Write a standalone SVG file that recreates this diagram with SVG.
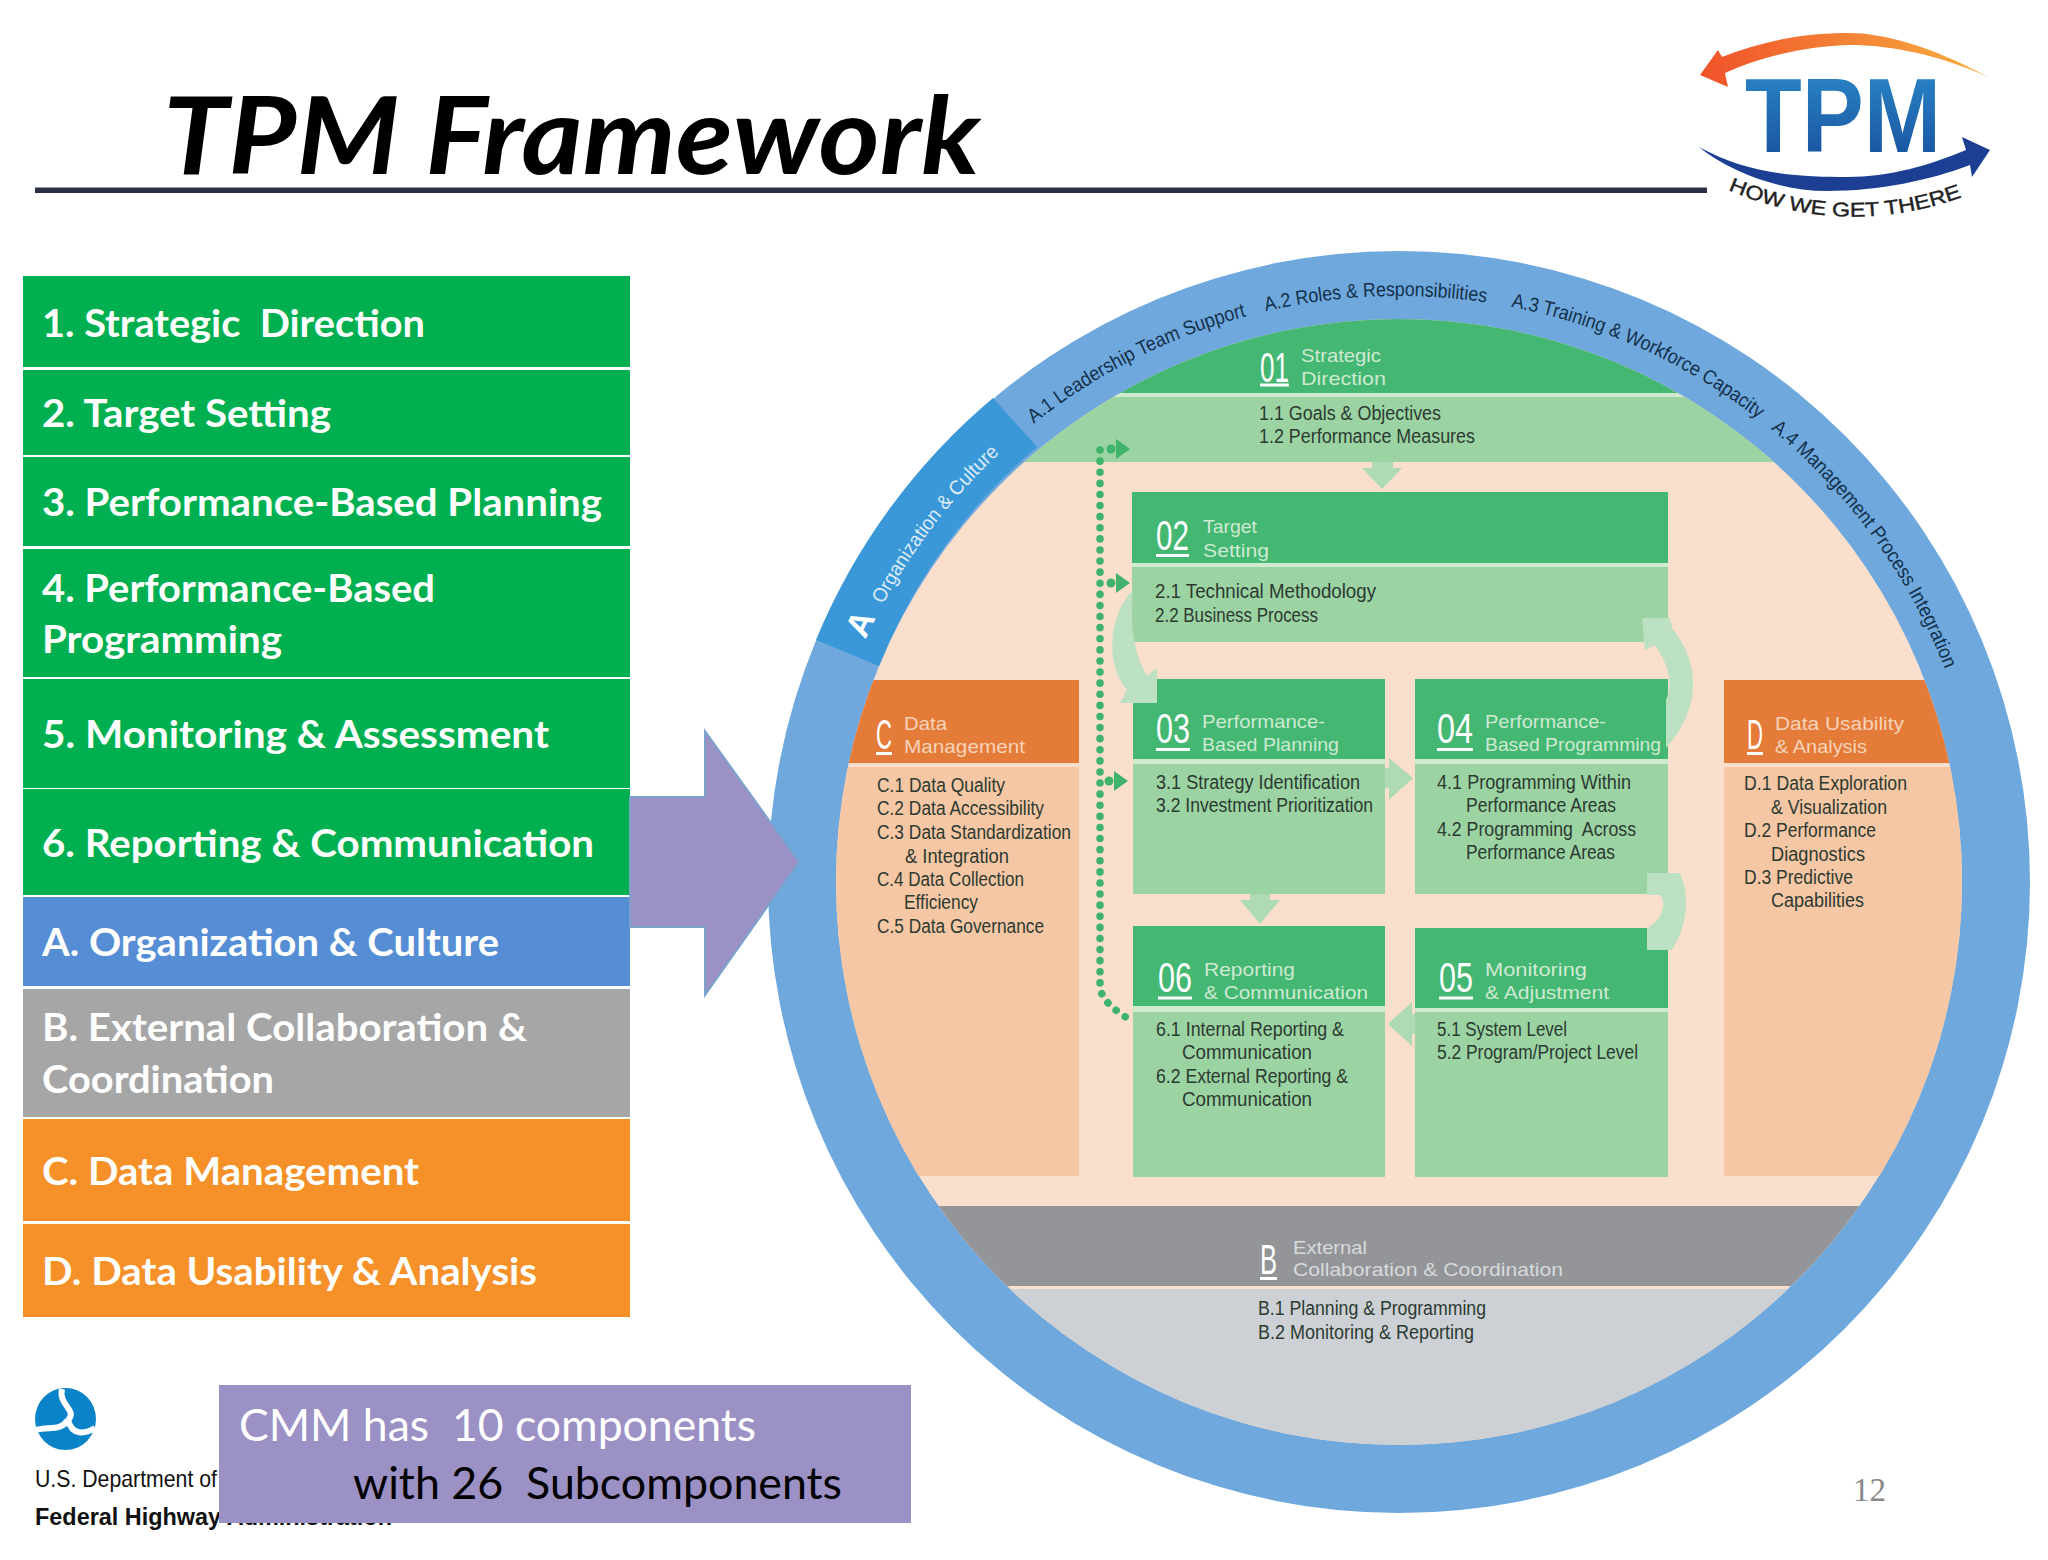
<svg xmlns="http://www.w3.org/2000/svg" width="2048" height="1560" viewBox="0 0 2048 1560">
<style>
text{font-family:"Liberation Sans",Arial,sans-serif}
.row text{font-family:Lato,"Liberation Sans",sans-serif;font-weight:700;font-size:38px;fill:#fff}
.hd{fill:#44b773}.lt{fill:#9bd3a3}.gap{fill:#cfead0}.oh{fill:#e57b38}.ol{fill:#f6c7a4}
.ht{font-size:19px;fill:#cfe9d2}
.oht{font-size:19px;fill:#f6d3ba}
.it{font-size:20px;fill:#2c3a31}
.num{font-size:43px;fill:#fff}
.arc{font-size:20px;fill:#14304a}
.bigarrow{fill:#aedab5}
.curve{fill:#bce1c2}
.dots{fill:none;stroke:#3fb26c;stroke-width:7.5;stroke-linecap:round;stroke-dasharray:0.1 11}
</style>
<defs>
<clipPath id="inner"><circle cx="1399" cy="882" r="563"/></clipPath>
<linearGradient id="tpmG" x1="0" y1="0" x2="0" y2="1"><stop offset="0" stop-color="#2b8ccb"/><stop offset="1" stop-color="#174b9b"/></linearGradient>
<linearGradient id="orG" x1="0" y1="0" x2="1" y2="0"><stop offset="0" stop-color="#f0522a"/><stop offset="1" stop-color="#f7b040"/></linearGradient>
<path id="ringPath" d="M813,882 A586,586 0 1 1 1985,882"/>
<path id="howPath" d="M1728,190 Q1845,240 1965,196"/>
<g id="dotArrow"><circle cx="-9" cy="0" r="4.500" fill="#3fb26c"/><path d="M-4,-10 L10,0 L-4,10 Z" fill="#3fb26c"/></g>
</defs>

<rect width="2048" height="1560" fill="#fff"/>

<g id="title">
<text x="163" y="174" font-size="108" font-weight="700" font-style="italic" textLength="817" lengthAdjust="spacingAndGlyphs" style="font-family:Lato,'Liberation Sans',sans-serif" fill="#000">TPM Framework</text>
<rect x="35" y="187.500" width="1672" height="5.500" fill="#2a2f45"/>
</g>

<g id="tpm-logo">
<path d="M1988,77 C1930,45 1880,33 1850,33 C1800,33 1760,42 1722,57 L1718,50 L1700,75 L1728,87 L1725,73 C1765,55 1810,46 1850,45 C1890,45 1940,55 1988,77 Z" fill="url(#orG)"/>
<text x="1745" y="152" font-size="105" font-weight="700" textLength="196" lengthAdjust="spacingAndGlyphs" fill="url(#tpmG)">TPM</text>
<path d="M1699,147 C1750,175 1800,177 1847,177 C1890,177 1930,165 1966,150 L1962,137 L1990,150 L1972,177 L1970,165 C1930,180 1880,191 1827,191 C1780,191 1730,172 1699,147 Z" fill="#1c3f94"/>
<text font-size="20" fill="#222" stroke="#222" stroke-width="0.4"><textPath href="#howPath" textLength="240" lengthAdjust="spacingAndGlyphs">HOW WE GET THERE</textPath></text>
</g>

<g id="list" class="row">
<g id="row-1"><rect x="23" y="276" width="607" height="91" fill="#00b050"/><text x="42" y="337" xml:space="preserve" textLength="383" lengthAdjust="spacingAndGlyphs">1. Strategic  Direction</text></g>
<g id="row-2"><rect x="23" y="370" width="607" height="85" fill="#00b050"/><text x="42" y="427" textLength="289" lengthAdjust="spacingAndGlyphs">2. Target Setting</text></g>
<g id="row-3"><rect x="23" y="457" width="607" height="89" fill="#00b050"/><text x="42" y="516" textLength="560" lengthAdjust="spacingAndGlyphs">3. Performance-Based Planning</text></g>
<g id="row-4"><rect x="23" y="549" width="607" height="128" fill="#00b050"/><text x="42" y="602" textLength="393" lengthAdjust="spacingAndGlyphs">4. Performance-Based</text><text x="42" y="653" textLength="240" lengthAdjust="spacingAndGlyphs">Programming</text></g>
<g id="row-5"><rect x="23" y="679" width="607" height="109" fill="#00b050"/><text x="42" y="748" textLength="507" lengthAdjust="spacingAndGlyphs">5. Monitoring &amp; Assessment</text></g>
<g id="row-6"><rect x="23" y="789" width="607" height="106" fill="#00b050"/><text x="42" y="857" textLength="552" lengthAdjust="spacingAndGlyphs">6. Reporting &amp; Communication</text></g>
<g id="row-a"><rect x="23" y="897" width="607" height="89" fill="#558ed5"/><text x="42" y="956" textLength="457" lengthAdjust="spacingAndGlyphs">A. Organization &amp; Culture</text></g>
<g id="row-b"><rect x="23" y="989" width="607" height="128" fill="#a6a6a6"/><text x="42" y="1041" textLength="485" lengthAdjust="spacingAndGlyphs">B. External Collaboration &amp;</text><text x="42" y="1093" textLength="232" lengthAdjust="spacingAndGlyphs">Coordination</text></g>
<g id="row-c"><rect x="23" y="1119" width="607" height="102" fill="#f59128"/><text x="42" y="1185" textLength="377" lengthAdjust="spacingAndGlyphs">C. Data Management</text></g>
<g id="row-d"><rect x="23" y="1224" width="607" height="93" fill="#f59128"/><text x="42" y="1285" textLength="495" lengthAdjust="spacingAndGlyphs">D. Data Usability &amp; Analysis</text></g>
</g>

<g id="ring">
<circle cx="1399" cy="882" r="631" fill="#6ea8dd"/>
<circle cx="1399" cy="882" r="563" fill="#fbdfcd"/>
<path d="M816,640 A631,631 0 0 1 993,398 L1037,447 A563,563 0 0 0 879,666 Z" fill="#3a97d8"/>
<text class="arc" text-anchor="middle"><textPath href="#ringPath" startOffset="646" textLength="240" lengthAdjust="spacingAndGlyphs">A.1 Leadership Team Support</textPath></text>
<text class="arc" text-anchor="middle"><textPath href="#ringPath" startOffset="897" textLength="222" lengthAdjust="spacingAndGlyphs">A.2 Roles &amp; Responsibilities</textPath></text>
<text class="arc" text-anchor="middle"><textPath href="#ringPath" startOffset="1170" textLength="274" lengthAdjust="spacingAndGlyphs">A.3 Training &amp; Workforce Capacity</textPath></text>
<text class="arc" text-anchor="middle"><textPath href="#ringPath" startOffset="1473" textLength="300" lengthAdjust="spacingAndGlyphs">A.4 Management Process Integration</textPath></text>
<text class="arc" text-anchor="middle" style="fill:#dcecf8"><textPath href="#ringPath" startOffset="385" textLength="192" lengthAdjust="spacingAndGlyphs">Organization &amp; Culture</textPath></text>
<text font-size="34" font-weight="700" fill="#fff" text-anchor="middle"><textPath href="#ringPath" startOffset="262">A</textPath></text>
</g>

<g id="node-01">
<g clip-path="url(#inner)"><rect x="800" y="300" width="1200" height="93" class="hd"/><rect x="800" y="393" width="1200" height="4" class="gap"/><rect x="800" y="397" width="1200" height="65" class="lt"/></g>
<text class="num" x="1260" y="382" textLength="29" lengthAdjust="spacingAndGlyphs">01</text><rect x="1260" y="383.500" width="29" height="3" fill="#fff"/>
<text class="ht" x="1301" y="362" textLength="80" lengthAdjust="spacingAndGlyphs">Strategic</text>
<text class="ht" x="1301" y="385" textLength="85" lengthAdjust="spacingAndGlyphs">Direction</text>
<text class="it" x="1259" y="420" textLength="182" lengthAdjust="spacingAndGlyphs">1.1 Goals &amp; Objectives</text>
<text class="it" x="1259" y="443" textLength="216" lengthAdjust="spacingAndGlyphs">1.2 Performance Measures</text>
</g>

<g id="node-02">
<rect x="1132" y="492" width="536" height="71" class="hd"/><rect x="1132" y="563" width="536" height="4" class="gap"/><rect x="1132" y="567" width="536" height="75" class="lt"/>
<text class="num" x="1156" y="550" textLength="33" lengthAdjust="spacingAndGlyphs">02</text><rect x="1156" y="554" width="33" height="3" fill="#fff"/>
<text class="ht" x="1203" y="533" textLength="54" lengthAdjust="spacingAndGlyphs">Target</text>
<text class="ht" x="1203" y="557" textLength="66" lengthAdjust="spacingAndGlyphs">Setting</text>
<text class="it" x="1155" y="598" textLength="221" lengthAdjust="spacingAndGlyphs">2.1 Technical Methodology</text>
<text class="it" x="1155" y="622" textLength="163" lengthAdjust="spacingAndGlyphs">2.2 Business Process</text>
</g>

<g id="node-03">
<rect x="1133" y="679" width="252" height="80" class="hd"/><rect x="1133" y="759" width="252" height="5" class="gap"/><rect x="1133" y="764" width="252" height="130" class="lt"/>
<text class="num" x="1156" y="743" textLength="34" lengthAdjust="spacingAndGlyphs">03</text><rect x="1156" y="748" width="34" height="3" fill="#fff"/>
<text class="ht" x="1202" y="728" textLength="123" lengthAdjust="spacingAndGlyphs">Performance-</text>
<text class="ht" x="1202" y="751" textLength="137" lengthAdjust="spacingAndGlyphs">Based Planning</text>
<text class="it" x="1156" y="789" textLength="204" lengthAdjust="spacingAndGlyphs">3.1 Strategy Identification</text>
<text class="it" x="1156" y="812" textLength="217" lengthAdjust="spacingAndGlyphs">3.2 Investment Prioritization</text>
</g>

<g id="node-04">
<rect x="1415" y="679" width="253" height="80" class="hd"/><rect x="1415" y="759" width="253" height="5" class="gap"/><rect x="1415" y="764" width="253" height="130" class="lt"/>
<text class="num" x="1437" y="743" textLength="36" lengthAdjust="spacingAndGlyphs">04</text><rect x="1437" y="748" width="36" height="3" fill="#fff"/>
<text class="ht" x="1485" y="728" textLength="121" lengthAdjust="spacingAndGlyphs">Performance-</text>
<text class="ht" x="1485" y="751" textLength="176" lengthAdjust="spacingAndGlyphs">Based Programming</text>
<text class="it" x="1437" y="789" textLength="194" lengthAdjust="spacingAndGlyphs">4.1 Programming Within</text>
<text class="it" x="1466" y="812" textLength="150" lengthAdjust="spacingAndGlyphs">Performance Areas</text>
<text class="it" x="1437" y="836" xml:space="preserve" textLength="199" lengthAdjust="spacingAndGlyphs">4.2 Programming  Across</text>
<text class="it" x="1466" y="859" textLength="149" lengthAdjust="spacingAndGlyphs">Performance Areas</text>
</g>

<g id="node-05">
<rect x="1415" y="928" width="253" height="80" class="hd"/><rect x="1415" y="1008" width="253" height="4" class="gap"/><rect x="1415" y="1012" width="253" height="165" class="lt"/>
<text class="num" x="1439" y="992" textLength="34" lengthAdjust="spacingAndGlyphs">05</text><rect x="1439" y="996.500" width="34" height="3" fill="#fff"/>
<text class="ht" x="1485" y="976" textLength="102" lengthAdjust="spacingAndGlyphs">Monitoring</text>
<text class="ht" x="1485" y="999" textLength="124" lengthAdjust="spacingAndGlyphs">&amp; Adjustment</text>
<text class="it" x="1437" y="1036" textLength="130" lengthAdjust="spacingAndGlyphs">5.1 System Level</text>
<text class="it" x="1437" y="1059" textLength="201" lengthAdjust="spacingAndGlyphs">5.2 Program/Project Level</text>
</g>

<g id="node-06">
<rect x="1133" y="926" width="252" height="80" class="hd"/><rect x="1133" y="1006" width="252" height="6" class="gap"/><rect x="1133" y="1012" width="252" height="165" class="lt"/>
<text class="num" x="1158" y="992" textLength="34" lengthAdjust="spacingAndGlyphs">06</text><rect x="1158" y="996.500" width="34" height="3" fill="#fff"/>
<text class="ht" x="1204" y="976" textLength="91" lengthAdjust="spacingAndGlyphs">Reporting</text>
<text class="ht" x="1204" y="999" textLength="164" lengthAdjust="spacingAndGlyphs">&amp; Communication</text>
<text class="it" x="1156" y="1036" textLength="188" lengthAdjust="spacingAndGlyphs">6.1 Internal Reporting &amp;</text>
<text class="it" x="1182" y="1059" textLength="130" lengthAdjust="spacingAndGlyphs">Communication</text>
<text class="it" x="1156" y="1082.500" textLength="192" lengthAdjust="spacingAndGlyphs">6.2 External Reporting &amp;</text>
<text class="it" x="1182" y="1106" textLength="130" lengthAdjust="spacingAndGlyphs">Communication</text>
</g>

<g id="node-c">
<g clip-path="url(#inner)"><rect x="800" y="680" width="279" height="83" class="oh"/><rect x="800" y="767" width="279" height="409" class="ol"/></g>
<text class="num" x="876" y="749" textLength="16" lengthAdjust="spacingAndGlyphs">C</text><rect x="876" y="752" width="16" height="3" fill="#fff"/>
<text class="oht" x="904" y="730" textLength="43" lengthAdjust="spacingAndGlyphs">Data</text>
<text class="oht" x="904" y="753" textLength="121" lengthAdjust="spacingAndGlyphs">Management</text>
<text class="it" x="877" y="792" textLength="128" lengthAdjust="spacingAndGlyphs">C.1 Data Quality</text>
<text class="it" x="877" y="815" textLength="167" lengthAdjust="spacingAndGlyphs">C.2 Data Accessibility</text>
<text class="it" x="877" y="839" textLength="194" lengthAdjust="spacingAndGlyphs">C.3 Data Standardization</text>
<text class="it" x="905" y="862.500" textLength="104" lengthAdjust="spacingAndGlyphs">&amp; Integration</text>
<text class="it" x="877" y="886" textLength="147" lengthAdjust="spacingAndGlyphs">C.4 Data Collection</text>
<text class="it" x="904" y="909" textLength="74" lengthAdjust="spacingAndGlyphs">Efficiency</text>
<text class="it" x="877" y="932.500" textLength="167" lengthAdjust="spacingAndGlyphs">C.5 Data Governance</text>
</g>

<g id="node-d">
<g clip-path="url(#inner)"><rect x="1724" y="680" width="280" height="83" class="oh"/><rect x="1724" y="767" width="280" height="409" class="ol"/></g>
<text class="num" x="1747" y="749" textLength="16" lengthAdjust="spacingAndGlyphs">D</text><rect x="1747" y="752" width="16" height="3" fill="#fff"/>
<text class="oht" x="1775" y="730" textLength="129" lengthAdjust="spacingAndGlyphs">Data Usability</text>
<text class="oht" x="1775" y="753" textLength="92" lengthAdjust="spacingAndGlyphs">&amp; Analysis</text>
<text class="it" x="1744" y="790" textLength="163" lengthAdjust="spacingAndGlyphs">D.1 Data Exploration</text>
<text class="it" x="1771" y="813.500" textLength="116" lengthAdjust="spacingAndGlyphs">&amp; Visualization</text>
<text class="it" x="1744" y="837" textLength="132" lengthAdjust="spacingAndGlyphs">D.2 Performance</text>
<text class="it" x="1771" y="861" textLength="94" lengthAdjust="spacingAndGlyphs">Diagnostics</text>
<text class="it" x="1744" y="884" textLength="109" lengthAdjust="spacingAndGlyphs">D.3 Predictive</text>
<text class="it" x="1771" y="907" textLength="93" lengthAdjust="spacingAndGlyphs">Capabilities</text>
</g>

<g id="node-b">
<g clip-path="url(#inner)"><rect x="800" y="1206" width="1200" height="80" fill="#939598"/><rect x="800" y="1289" width="1200" height="170" fill="#cdd1d5"/></g>
<text class="num" x="1260" y="1274" textLength="17" lengthAdjust="spacingAndGlyphs">B</text><rect x="1260" y="1277" width="17" height="3" fill="#fff"/>
<text class="ht" x="1293" y="1254" textLength="74" lengthAdjust="spacingAndGlyphs" style="fill:#d8dadc">External</text>
<text class="ht" x="1293" y="1276" textLength="270" lengthAdjust="spacingAndGlyphs" style="fill:#d8dadc">Collaboration &amp; Coordination</text>
<text class="it" x="1258" y="1315" textLength="228" lengthAdjust="spacingAndGlyphs">B.1 Planning &amp; Programming</text>
<text class="it" x="1258" y="1339" textLength="216" lengthAdjust="spacingAndGlyphs">B.2 Monitoring &amp; Reporting</text>
</g>

<g id="big-arrow"><path d="M630,797 L705,797 L705,731 L799,862 L705,995 L705,927 L630,927 Z" fill="#9b91c5" stroke="#7ba3cc" stroke-width="2"/></g>

<g id="connectors">
<path class="bigarrow" d="M1372,462 L1393,462 L1393,468 L1402,468 L1382,489 L1362,468 L1372,468 Z"/>
<path class="bigarrow" d="M1250,894 L1270,894 L1270,900 L1280,900 L1260,924 L1240,900 L1250,900 Z"/>
<path class="bigarrow" d="M1385,768 L1389,768 L1389,758 L1413,778 L1389,800 L1389,788 L1385,788 Z"/>
<path class="bigarrow" d="M1415,1014 L1412,1014 L1412,1002 L1388,1024 L1412,1046 L1412,1034 L1415,1034 Z"/>
<path class="curve" d="M1133,590 C1108,615 1105,665 1127,690 L1120,703 L1157,703 L1157,668 L1147,676 C1132,650 1130,620 1133,590 Z"/>
<path class="curve" d="M1642,618 L1670,618 L1672,628 C1702,665 1700,710 1666,748 L1666,700 C1675,680 1665,660 1655,645 L1645,650 Z"/>
<path class="curve" d="M1647,873 L1680,873 C1690,895 1688,925 1672,950 L1647,950 L1647,928 C1660,922 1668,905 1660,895 L1647,895 Z"/>
<path class="dots" d="M1100,450 L1100,985 C1100,1000 1115,1010 1130,1020"/>
<use href="#dotArrow" x="1120" y="449"/>
<use href="#dotArrow" x="1120" y="583"/>
<use href="#dotArrow" x="1118" y="781"/>
</g>

<g id="fhwa">
<ellipse cx="65.500" cy="1419" rx="30.500" ry="31" fill="#0b83c9"/>
<g fill="none" stroke="#fff" stroke-width="6"><path d="M62,1389 C58,1405 78,1410 68,1420"/><path d="M68,1420 C60,1432 48,1426 36,1430"/><path d="M68,1420 C72,1436 85,1434 95,1428"/></g>
<text x="35" y="1487" font-size="24" textLength="182" lengthAdjust="spacingAndGlyphs" fill="#111">U.S. Department of</text>
<text x="35" y="1525" font-size="24" font-weight="700" textLength="357" lengthAdjust="spacingAndGlyphs" fill="#111">Federal Highway Administration</text>
</g>

<g id="cmm-box">
<rect x="219" y="1385" width="692" height="138" fill="#9b91c5"/>
<text x="239" y="1441" font-size="44" fill="#fff" xml:space="preserve" textLength="517" lengthAdjust="spacingAndGlyphs" style="font-family:Lato,'Liberation Sans',sans-serif">CMM has  10 components</text>
<text x="353" y="1499" font-size="44" fill="#000" xml:space="preserve" textLength="489" lengthAdjust="spacingAndGlyphs" style="font-family:Lato,'Liberation Sans',sans-serif">with 26  Subcomponents</text>
</g>

<text id="page-number" x="1853" y="1501" font-size="33" fill="#888" style="font-family:'Liberation Serif',serif">12</text>
</svg>
